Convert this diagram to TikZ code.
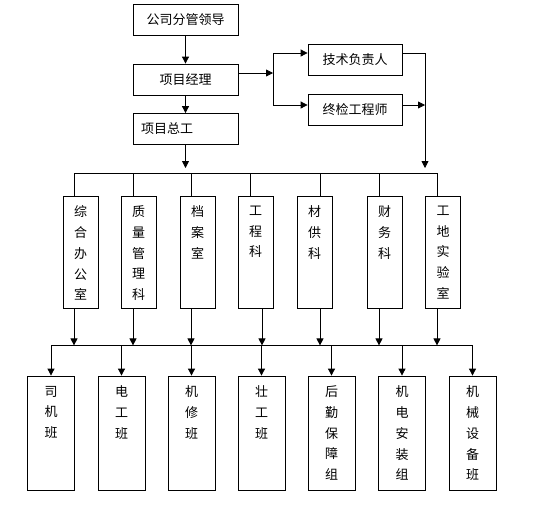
\documentclass[tikz,border=0pt]{standalone}
\usepackage{fontspec}
\newfontfamily\cjk{Noto Sans CJK SC}
\usetikzlibrary{arrows.meta}
\tikzset{
  box/.style={draw, inner sep=0pt},
  wide/.style={box, minimum width=105pt, minimum height=31pt},
  side/.style={box, minimum width=94pt, minimum height=31pt},
  mid/.style={box, minimum width=35pt, minimum height=112pt},
  low/.style={box, minimum width=47pt, minimum height=114pt},
  vtext/.style={anchor=north, inner sep=0pt, yshift=-10pt, align=center},
  arr/.style={-{Triangle[width=7pt,length=7pt]}},
}
\begin{document}
\begin{tikzpicture}[x=1pt, y=-1pt, line width=0.8pt, font=\cjk\fontsize{13}{20.7}\selectfont]
\useasboundingbox (0,0) rectangle (536,507);
% leaders
\node[wide] (lead) at (185.5,19.5) {公司分管领导};
\node[wide] (pm) at (185.5,79.5) {项目经理};
\node[wide, text width=89pt, align=left] (chief) at (185.5,129) {项目总工};
\node[side] (tech) at (355,59.7) {技术负责人};
\node[side] (final) at (355,109.7) {终检工程师};
% departments
\node[mid, label={[vtext]north:综\\合\\办\\公\\室}] (m1) at (80.5,252) {};
\node[mid, label={[vtext]north:质\\量\\管\\理\\科}] (m2) at (138.5,252) {};
\node[mid, label={[vtext]north:档\\案\\室}] (m3) at (197.5,252) {};
\node[mid, label={[vtext]north:工\\程\\科}] (m4) at (255.5,252) {};
\node[mid, label={[vtext]north:材\\供\\科}] (m5) at (314.5,252) {};
\node[mid, label={[vtext]north:财\\务\\科}] (m6) at (384.5,252) {};
\node[mid, label={[vtext]north:工\\地\\实\\验\\室}] (m7) at (443,252) {};
% teams
\node[low, label={[vtext]north:司\\机\\班}] (b1) at (51,433) {};
\node[low, label={[vtext]north:电\\工\\班}] (b2) at (121.5,433) {};
\node[low, label={[vtext]north:机\\修\\班}] (b3) at (191.5,433) {};
\node[low, label={[vtext]north:壮\\工\\班}] (b4) at (261.5,433) {};
\node[low, label={[vtext]north:后\\勤\\保\\障\\组}] (b5) at (331.5,433) {};
\node[low, label={[vtext]north:机\\电\\安\\装\\组}] (b6) at (402,433) {};
\node[low, label={[vtext]north:机\\械\\设\\备\\班}] (b7) at (472.5,433) {};
% junctions
\coordinate (split) at (273,73);
\coordinate (sp1) at (273,53);
\coordinate (sp2) at (273,105);
\coordinate (rt) at (425,53);
\coordinate (rtb) at (425,168);
\coordinate (hub) at (185.5,168);
\coordinate (bus1w) at (74,173);
\coordinate (bus1e) at (437,173);
\coordinate (bus2w) at (51,345);
\coordinate (bus2e) at (473,345);
% connectors
\draw[arr] (lead) -- (pm);
\draw[arr] (pm) -- (chief);
\draw[arr] (pm.east |- split) -- (split);
\draw (sp1) -- (sp2);
\draw[arr] (sp1) -- (sp1 -| tech.west);
\draw[arr] (sp2) -- (sp2 -| final.west);
\draw[arr] (tech.east |- rt) -- (rt) -- (rtb);
\draw[arr] (final.east |- sp2) -- (sp2 -| rt);
\draw[arr] (chief) -- (hub);
\draw (bus1w) -- (bus1e);
\draw (bus2w) -- (bus2e);
\foreach \n/\a/\b in {m1/-6.5/-6.5, m2/-5.5/-5.5, m3/-6.5/-6.5, m4/-5.5/6.5, m5/5.5/5.5, m6/-5.5/-5.5, m7/-6/-6} {
  \draw (\n.north) ++(\a,0) -- ++(0,-23);
  \draw[arr] (\n.south) ++(\b,0) -- ++(0,37);
}
\foreach \n in {b1,b2,b3,b4,b5,b6,b7}
  \draw[arr] (\n.north |- bus2w) -- (\n.north);
\end{tikzpicture}
\end{document}
